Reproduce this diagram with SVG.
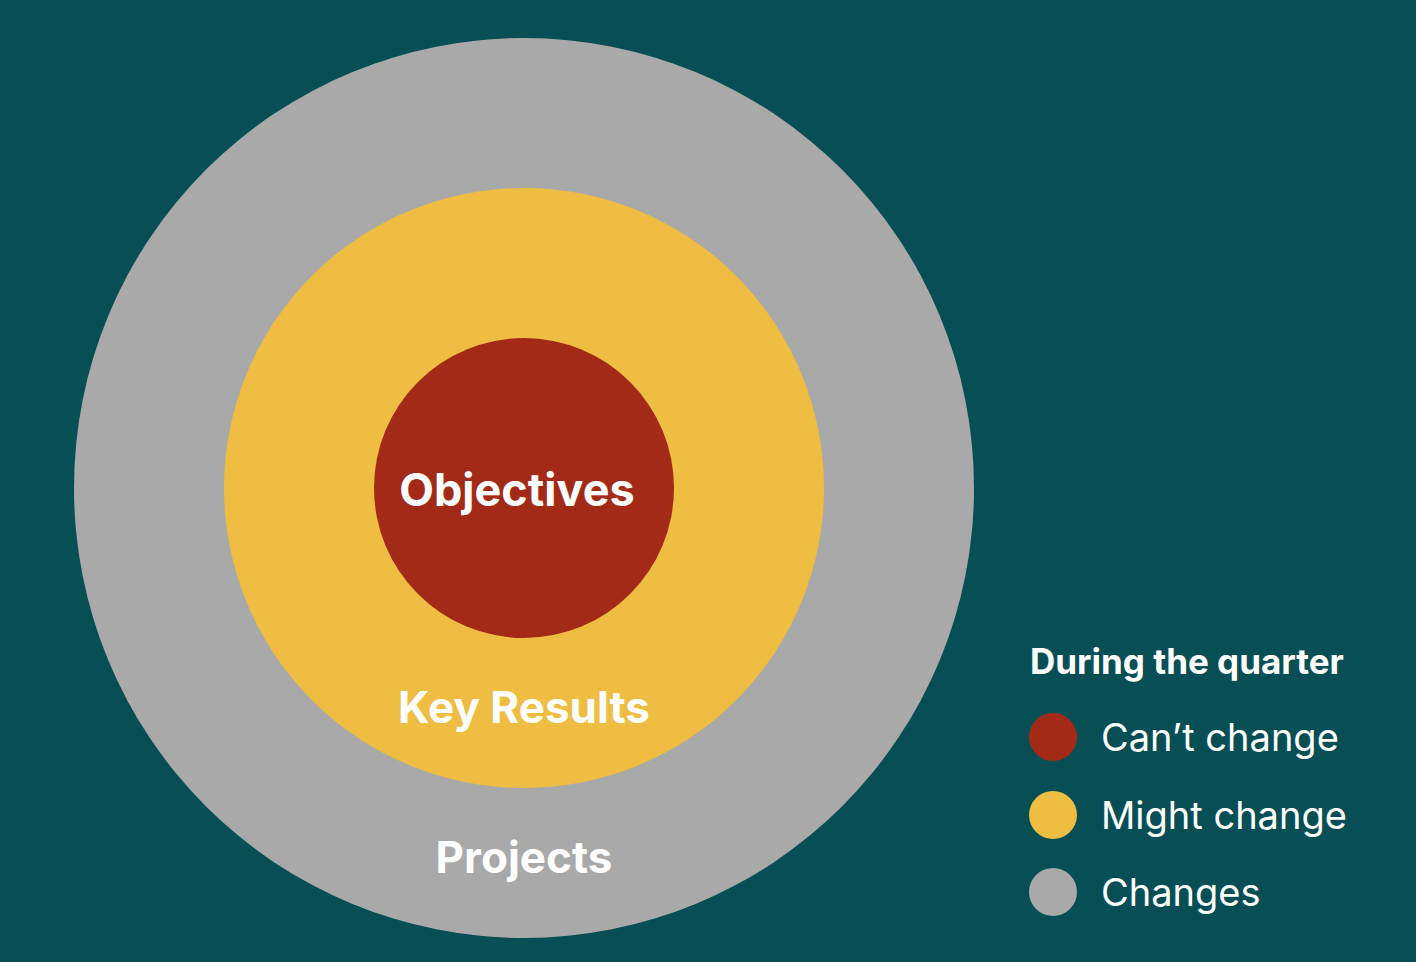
<svg xmlns="http://www.w3.org/2000/svg" width="1416" height="962" viewBox="0 0 1416 962">
<style>
.b{font-family:"Inter","Liberation Sans",sans-serif;font-weight:700;fill:#fff}
.l{font-family:"Inter","Liberation Sans",sans-serif;font-weight:400;fill:#fff;font-size:38px}
</style>
<rect width="1416" height="962" fill="#074F55"/>
<g id="projects"><circle cx="524" cy="488" r="450" fill="#A9A9A9"/><text class="b" x="524" y="873" font-size="44" text-anchor="middle">Projects</text></g>
<g id="keyresults"><circle cx="524" cy="488" r="300" fill="#EEBD42"/><text class="b" x="524" y="723" font-size="44" text-anchor="middle">Key Results</text></g>
<g id="objectives"><circle cx="524" cy="488" r="150" fill="#A42A18"/><text class="b" x="517" y="506" font-size="45" text-anchor="middle">Objectives</text></g>
<g id="legend">
<text class="b" x="1030" y="674" font-size="35">During the quarter</text>
<circle cx="1053" cy="737" r="24" fill="#A42A18"/><text class="l" x="1101" y="751">Can’t change</text>
<circle cx="1053" cy="815" r="24" fill="#EEBD42"/><text class="l" x="1101" y="829">Might change</text>
<circle cx="1053" cy="892" r="24" fill="#A9A9A9"/><text class="l" x="1101" y="906">Changes</text>
</g>
<g id="connectors"/>
</svg>
